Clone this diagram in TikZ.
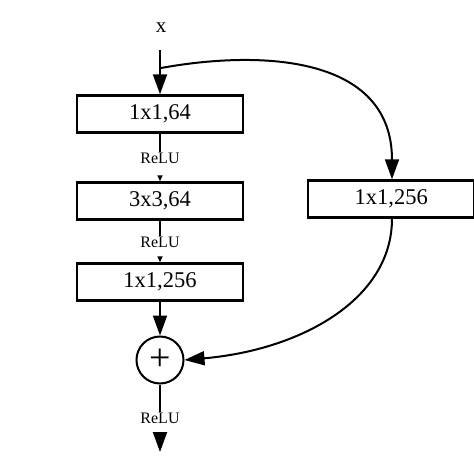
\documentclass[tikz,border=0pt]{standalone}
\usepackage{fontspec}
\setmainfont{Liberation Serif}
\usetikzlibrary{arrows.meta}
\begin{document}
\begin{tikzpicture}[x=1pt,y=-1pt,
  conv/.style={draw,line width=2.4pt,minimum width=166pt,minimum height=37pt,inner sep=0pt,font=\fontsize{22.5}{22.5}\selectfont},
  relu/.style={inner sep=0pt,font=\fontsize{16}{16}\selectfont},
  con/.style={line width=2pt},
  big/.style={-{Triangle[length=20pt,width=14pt]}},
  small/.style={-{Triangle[length=6pt,width=5pt]}}]
\useasboundingbox (0,0) rectangle (474,474);
\node[font=\fontsize{21}{21}\selectfont] (x) at (161,28) {x};
\coordinate (in) at (160,50);
\coordinate (br) at (161,68);
\node[conv] (b1) at (160,114) {1x1,64};
\node[relu] (r1) at (160,158) {ReLU};
\node[conv] (b2) at (160,201) {3x3,64};
\node[relu] (r2) at (160,242) {ReLU};
\node[conv] (b3) at (160,282) {1x1,256};
\node[conv,anchor=west] (s) at (307,199) {1x1,256};
\node[draw,circle,line width=2pt,minimum size=47pt,inner sep=0pt,font=\fontsize{38}{38}\selectfont] (p) at (160,360) {\raisebox{-0.5pt}{+}};
\node[relu] (r3) at (160,418) {ReLU};
\coordinate (out) at (160,452);
\draw[con,big] (in) -- (b1.north);
\draw[con,big] (br) .. controls (260,50) and (392,55) .. (s.north -| 392,0);
\draw[con] (b1.south) -- (r1.north);
\draw[con,small] (r1.south) ++(0,12) -- (b2.north);
\draw[con] (b2.south) -- (r2.north);
\draw[con,small] (r2.south) ++(0,12) -- (b3.north);
\draw[con,big] (b3.south) -- (p.north);
\draw[con,big] (s.south -| 392,0) .. controls (392,300) and (300,350) .. (p.east);
\draw[con] (p.south) -- (r3.north);
\draw[con,big] (r3.south) ++(0,10) -- (out);
\end{tikzpicture}
\end{document}
